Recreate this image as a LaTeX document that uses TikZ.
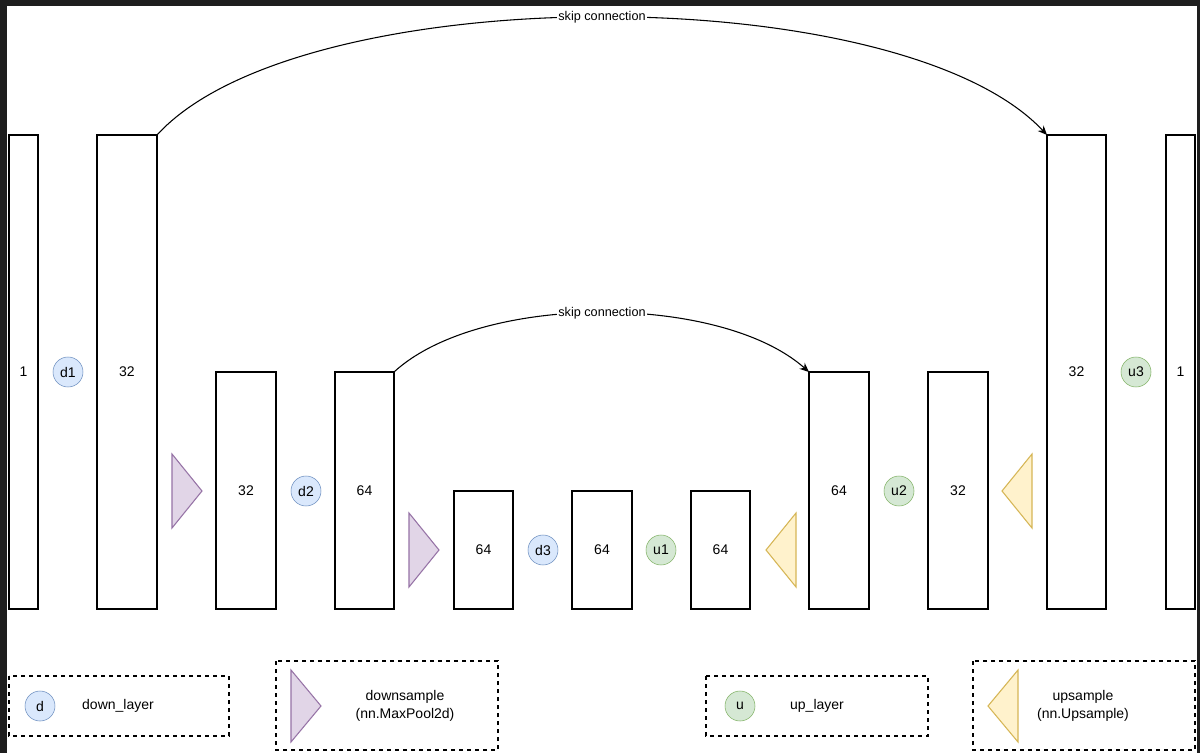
\documentclass[tikz,border=0pt]{standalone}
\usepackage{fontspec}
\setmainfont{Liberation Sans}
\usetikzlibrary{arrows.meta}
\definecolor{bfill}{HTML}{DAE8FC}\definecolor{bdraw}{HTML}{6C8EBF}
\definecolor{gfill}{HTML}{D5E8D4}\definecolor{gdraw}{HTML}{82B366}
\definecolor{pfill}{HTML}{E1D5E7}\definecolor{pdraw}{HTML}{9673A6}
\definecolor{yfill}{HTML}{FFF2CC}\definecolor{ydraw}{HTML}{D6B656}
\definecolor{frame}{HTML}{1E1E1E}
\begin{document}
\begin{tikzpicture}[x=0.75pt,y=-0.75pt,font=\fontsize{10.5}{13}\selectfont,
  layer/.style={draw,fill=white,line width=0.8pt},
  dn/.style={circle,draw=bdraw,fill=bfill,minimum size=22.5pt,inner sep=0pt},
  up/.style={circle,draw=gdraw,fill=gfill,minimum size=22.5pt,inner sep=0pt},
  pool/.style={draw=pdraw,fill=pfill,line width=0.8pt},
  ups/.style={draw=ydraw,fill=yfill,line width=0.8pt},
  leg/.style={draw,dashed,line width=0.8pt},
  skip/.style={line width=0.8pt,-{Stealth[length=7pt,width=6pt]}},
  lbl/.style={fill=white,inner sep=1pt,font=\fontsize{9.5}{11}\selectfont}]
\useasboundingbox (0,0) rectangle (1200,753);
\fill[white] (0,0) rectangle (1200,753);
\fill[frame] (0,0) rectangle (7,753);
\fill[frame] (0,0) rectangle (1200,6);
\fill[frame] (1197,0) rectangle (1200,753);
% layers
\foreach \n/\a/\b/\t/\tx in {A/9/38/135/1,B/97/157/135/32,C/216/276/372/32,D/335/394/372/64,E/454/513/491/64,F/572/632/491/64,G/691/750/491/64,H/809/869/372/64,I/928/988/372/32,J/1047/1106/135/32,K/1166/1195/135/1}{
  \draw[layer] (\a,\t) rectangle (\b,609);
  \node (\n) at ({(\a+\b)/2},{(\t+609)/2}) {\tx};
}
\coordinate (Btop) at (157,135); \coordinate (Jtop) at (1047,135);
\coordinate (Dtop) at (394,372); \coordinate (Htop) at (809,372);
% circles
\node[dn] (d1) at (68,372) {d1};
\node[dn] (d2) at (306,491) {d2};
\node[dn] (d3) at (543,550) {d3};
\node[up] (u1) at (661,550) {u1};
\node[up] (u2) at (899,491) {u2};
\node[up] (u3) at (1136,372) {u3};
% triangles
\draw[pool] (172,454) -- (202,491) -- (172,528) -- cycle;
\draw[pool] (409,513) -- (439,550) -- (409,587) -- cycle;
\draw[ups] (1032,454) -- (1002,491) -- (1032,528) -- cycle;
\draw[ups] (796,513) -- (766,550) -- (796,587) -- cycle;
% skips
\draw[skip] (Btop) .. controls (300,-22) and (900,-22) .. (Jtop);
\node[lbl] (s1) at (602,17) {skip connection};
\draw[skip] (Dtop) .. controls (480,293) and (720,293) .. (Htop);
\node[lbl] (s2) at (602,313) {skip connection};
% legend
\draw[leg] (9,676) rectangle (229,736);
\node[dn] (ld) at (40,706) {d};
\node (ldt) at (118,706) {down\_layer};
\draw[leg] (276,661) rectangle (498,750);
\draw[pool] (291,670) -- (321,706) -- (291,742) -- cycle;
\node[align=center] (lpt) at (405,706) {downsample\\(nn.MaxPool2d)};
\draw[leg] (706,676) rectangle (928,736);
\node[up] (lu) at (740,706) {u};
\node (lut) at (817,706) {up\_layer};
\draw[leg] (973,661) rectangle (1195,750);
\draw[ups] (1018,670) -- (988,706) -- (1018,742) -- cycle;
\node[align=center] (lyt) at (1083,706) {upsample\\(nn.Upsample)};
\end{tikzpicture}
\end{document}
